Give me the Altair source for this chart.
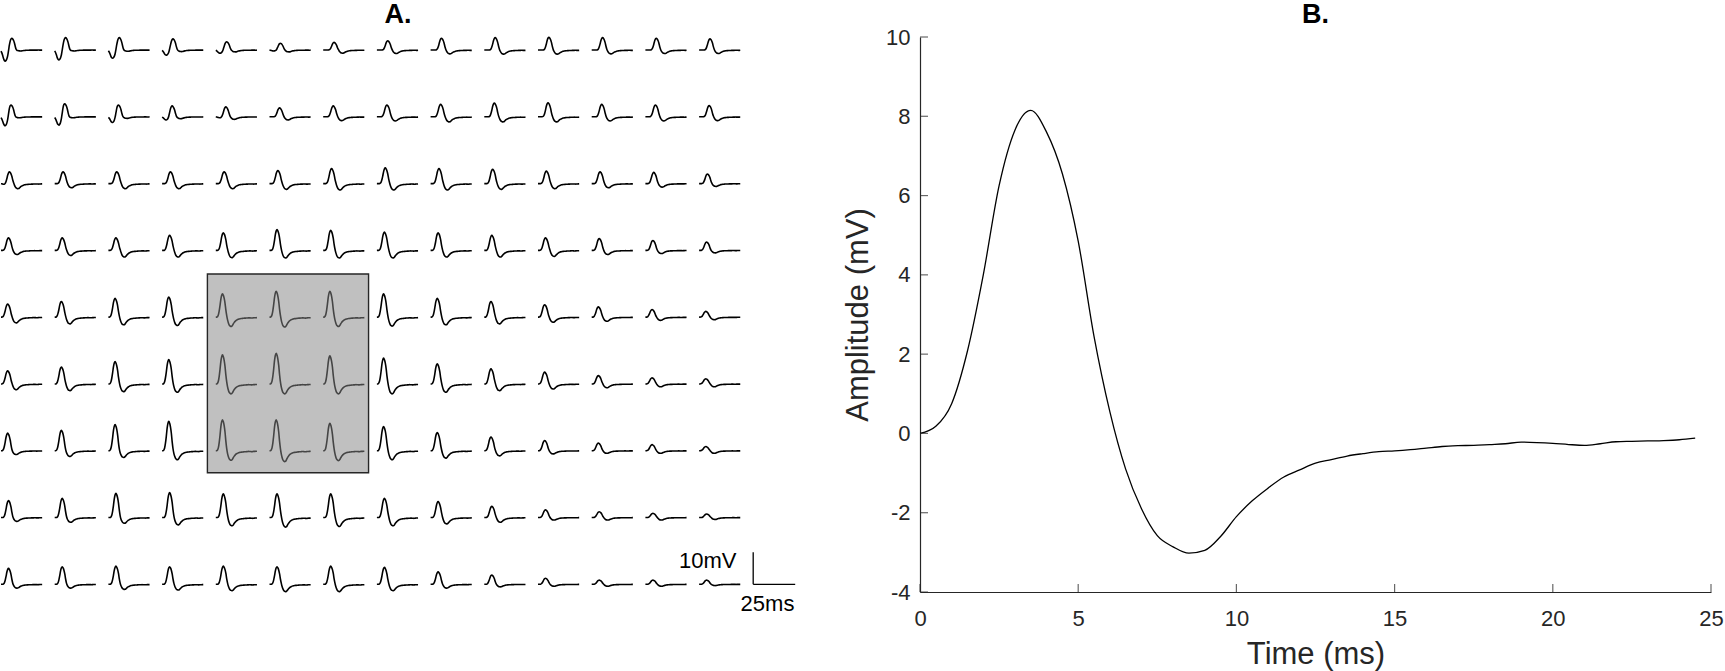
import altair as alt
import pandas as pd

# ---------------- data ----------------
TIME_STEP_MS = 0.5
# Panel B trace (mV), sampled every 0.5 ms from 0 to 24.5 ms
TRACE_B_MV = [0.00, 0.18, 0.75, 2.08, 4.00, 6.25, 7.65, 8.15, 7.60, 6.55,
              4.85, 2.45, 0.55, -0.90, -1.90, -2.58, -2.86, -3.02, -2.95, -2.60,
              -2.10, -1.70, -1.38, -1.10, -0.92, -0.75, -0.66, -0.57, -0.51, -0.46,
              -0.44, -0.41, -0.37, -0.33, -0.31, -0.30, -0.28, -0.26, -0.22, -0.23,
              -0.25, -0.28, -0.30, -0.26, -0.21, -0.20, -0.19, -0.18, -0.16, -0.12]
B_XTICKS = [0, 5, 10, 15, 20, 25]
B_YTICKS = [-4, -2, 0, 2, 4, 6, 8, 10]

# Panel A: 9 x 14 electrode grid, per electrode peak / trough / initial dip (mV)
PEAK_MV = [
    [3.7, 3.9, 3.9, 3.5, 2.6, 2.1, 2.4, 2.9, 3.7, 3.9, 4.0, 3.9, 3.7, 3.5],
    [3.7, 4.1, 3.7, 3.4, 3.1, 2.8, 3.4, 3.7, 3.9, 4.3, 4.4, 3.9, 3.7, 3.5],
    [3.7, 3.7, 3.7, 3.7, 3.7, 4.1, 4.7, 4.9, 4.7, 4.5, 3.9, 3.7, 3.5, 3.0],
    [3.9, 3.9, 3.9, 4.7, 5.5, 6.5, 6.3, 5.7, 5.5, 4.7, 3.9, 3.7, 3.1, 2.6],
    [4.1, 4.9, 5.9, 6.3, 7.3, 8.1, 8.1, 7.3, 5.9, 4.9, 3.9, 3.2, 2.4, 1.8],
    [4.1, 5.3, 7.0, 7.6, 9.1, 9.6, 8.8, 8.1, 6.3, 4.7, 3.7, 2.6, 1.9, 1.6],
    [5.5, 6.4, 8.2, 9.2, 9.7, 9.7, 8.6, 7.6, 5.7, 4.3, 3.2, 2.4, 1.9, 1.3],
    [5.3, 6.0, 7.6, 7.8, 7.4, 7.4, 7.4, 6.0, 5.0, 3.5, 2.4, 1.8, 1.3, 1.1],
    [5.0, 5.5, 5.7, 5.5, 5.7, 5.5, 5.7, 5.3, 3.9, 2.9, 1.9, 1.3, 1.3, 1.3],
]
TROUGH_MV = [
    [0.3, 0.3, 0.4, 0.5, 0.6, 0.6, 1.0, 1.1, 1.2, 1.3, 1.3, 1.2, 1.1, 1.1],
    [0.3, 0.3, 0.5, 0.6, 0.8, 1.0, 1.2, 1.3, 1.6, 1.6, 1.6, 1.3, 1.3, 1.2],
    [1.6, 1.3, 1.6, 1.6, 1.6, 1.8, 2.0, 2.0, 2.0, 1.8, 1.6, 1.3, 1.1, 0.9],
    [1.3, 1.6, 2.1, 2.1, 2.3, 2.4, 2.4, 2.4, 2.1, 2.1, 1.9, 1.3, 1.0, 0.8],
    [1.8, 2.1, 2.4, 2.6, 2.9, 3.1, 2.9, 2.8, 2.4, 2.1, 1.6, 1.3, 1.0, 0.8],
    [1.8, 2.1, 2.4, 2.6, 3.1, 3.1, 3.1, 3.1, 2.6, 2.1, 1.6, 1.2, 0.9, 0.9],
    [1.2, 1.8, 2.1, 2.8, 3.0, 3.4, 3.1, 2.8, 2.3, 1.6, 1.0, 0.8, 0.8, 0.8],
    [1.2, 1.5, 1.8, 2.3, 2.6, 3.0, 2.8, 2.6, 2.0, 1.5, 0.8, 0.8, 0.8, 0.6],
    [1.2, 1.2, 1.6, 1.8, 2.0, 2.3, 2.3, 2.0, 1.2, 0.8, 0.6, 0.6, 0.6, 0.4],
]
PREDIP_MV = [
    [3.5, 3.1, 2.6, 1.6, 1.0, 0.3, 0, 0, 0, 0, 0, 0, 0, 0],
    [2.8, 2.6, 1.8, 1.0, 0.3, 0, 0, 0, 0, 0, 0, 0, 0, 0],
    [0.3, 0, 0, 0, 0, 0, 0, 0, 0, 0, 0, 0, 0, 0],
    [0] * 14, [0] * 14, [0] * 14, [0] * 14, [0] * 14, [0] * 14,
]
ONSET_MS = [3.0, 2.5, 1.5, 1.0, 0.5, 0.5, 0.5, 1.0, 1.0]
BOX_ROWS = [4, 6]
BOX_COLS = [4, 6]
SCALEBAR_MV = 10
SCALEBAR_MS = 25
SCALEBAR_LABELS = ["10mV", "25ms"]
PANEL_TITLES = ["A.", "B."]
AXIS_TITLES = ["Time (ms)", "Amplitude (mV)"]

# ---------------- layout / style ----------------
COL_PX = 53.7
PX_PER_MS = 1.68
COL_PITCH_MS = COL_PX / PX_PER_MS
ROW_PITCH_MV = 20.9
FONT = "Liberation Sans"
AX = "#262626"

n = len(TRACE_B_MV)
b_peak = max(TRACE_B_MV)
b_trough = -min(TRACE_B_MV)

recs = []
for r in range(len(PEAK_MV)):
    k = int(round(ONSET_MS[r] / TIME_STEP_MS))
    for c in range(len(PEAK_MV[r])):
        inbox = BOX_ROWS[0] <= r <= BOX_ROWS[1] and BOX_COLS[0] <= c <= BOX_COLS[1]
        for i in range(n):
            t = i * TIME_STEP_MS
            j = i - k
            base = TRACE_B_MV[j] if j >= 0 else 0.0
            pos = max(base, 0.0) / b_peak
            neg = min(base, 0.0) / b_trough
            jd = i + 2
            dip = max(TRACE_B_MV[jd], 0.0) / b_peak if jd < n else 0.0
            v = PEAK_MV[r][c] * pos + TROUGH_MV[r][c] * neg - PREDIP_MV[r][c] * dip
            recs.append({"id": f"{r}-{c}", "t": t,
                         "x": c * COL_PITCH_MS + t,
                         "y": v - r * ROW_PITCH_MV,
                         "grp": "in" if inbox else "out"})
df_a = pd.DataFrame(recs)

last_col = len(PEAK_MV[0]) - 1
last_row = len(PEAK_MV) - 1
xa = alt.Scale(domain=[0, last_col * COL_PITCH_MS], range=[1, 1 + last_col * COL_PX], nice=False, zero=False)
ya = alt.Scale(domain=[-last_row * ROW_PITCH_MV, 0], range=[584.3, 50], nice=False, zero=False)

box_df = pd.DataFrame([{
    "x0": BOX_COLS[0] * COL_PITCH_MS - 5.0,
    "x1": BOX_COLS[1] * COL_PITCH_MS + 25 + 2.0,
    "y0": -BOX_ROWS[0] * ROW_PITCH_MV + 13.5,
    "y1": -BOX_ROWS[1] * ROW_PITCH_MV - 6.9,
}])
box = alt.Chart(box_df).mark_rect(fill="#c0c0c0", stroke=AX, strokeWidth=1.4).encode(
    x=alt.X("x0:Q", scale=xa, axis=None), x2="x1:Q",
    y=alt.Y("y0:Q", scale=ya, axis=None), y2="y1:Q")

waves = alt.Chart(df_a).mark_line(strokeWidth=1.6, interpolate="monotone").encode(
    x=alt.X("x:Q", scale=xa, axis=None),
    y=alt.Y("y:Q", scale=ya, axis=None),
    detail="id:N",
    order="t:Q",
    color=alt.Color("grp:N", scale=alt.Scale(domain=["out", "in"], range=["#000000", "#454545"]), legend=None),
)

sb_x = last_col * COL_PITCH_MS + 32.2
sb_y = -last_row * ROW_PITCH_MV
sb_df = pd.DataFrame([{"x": sb_x, "xe": sb_x + SCALEBAR_MS, "y": sb_y, "ye": sb_y + SCALEBAR_MV,
                       "lx_v": sb_x - 10, "ly_v": sb_y + 5, "lx_h": sb_x + 8.5,
                       "ly_h": sb_y - 8.2, "tv": SCALEBAR_LABELS[0], "th": SCALEBAR_LABELS[1]}])
sb_v = alt.Chart(sb_df).mark_rule(color="#000000", strokeWidth=1.3).encode(
    x=alt.X("x:Q", scale=xa, axis=None), y=alt.Y("y:Q", scale=ya, axis=None), y2="ye:Q")
sb_h = alt.Chart(sb_df).mark_rule(color="#000000", strokeWidth=1.3).encode(
    x=alt.X("x:Q", scale=xa, axis=None), x2="xe:Q", y=alt.Y("y:Q", scale=ya, axis=None))
sb_tv = alt.Chart(sb_df).mark_text(font=FONT, fontSize=22, align="right", baseline="alphabetic", color="#000000").encode(
    x=alt.X("lx_v:Q", scale=xa, axis=None), y=alt.Y("ly_v:Q", scale=ya, axis=None), text="tv:N")
sb_th = alt.Chart(sb_df).mark_text(font=FONT, fontSize=22, align="center", baseline="alphabetic", color="#000000").encode(
    x=alt.X("lx_h:Q", scale=xa, axis=None), y=alt.Y("ly_h:Q", scale=ya, axis=None), text="th:N")

title_a = alt.Chart(pd.DataFrame({"x": [(sb_x + SCALEBAR_MS) / 2], "lab": [PANEL_TITLES[0]]})).mark_text(
    font=FONT, fontSize=27, fontWeight="bold", align="center", baseline="alphabetic", color="#000000").encode(
    x=alt.X("x:Q", scale=xa, axis=None), y=alt.value(23), text="lab:N")

panel_a = alt.layer(box, waves, sb_v, sb_h, sb_tv, sb_th, title_a)

# ---------------- panel B ----------------
df_b = pd.DataFrame({"t": [i * TIME_STEP_MS for i in range(n)], "v": TRACE_B_MV})
xb = alt.Scale(domain=[B_XTICKS[0], B_XTICKS[-1]], range=[920, 1711], nice=False, zero=False)
yb = alt.Scale(domain=[B_YTICKS[0], B_YTICKS[-1]], range=[592, 37], nice=False, zero=False)

x_axis_b = alt.Axis(
    orient="bottom", offset=-79, values=B_XTICKS, ticks=False, grid=False,
    domainColor=AX, domainWidth=1.2, labelFont=FONT, labelFontSize=22, labelColor=AX,
    labelPadding=16, labelFlush=False, labelOverlap=False, labelExpr="'' + datum.value",
    title=AXIS_TITLES[0], titleFont=FONT, titleFontSize=31, titleFontWeight="normal",
    titleColor=AX, titlePadding=10)
y_axis_b = alt.Axis(
    orient="left", offset=-920, values=B_YTICKS, ticks=False, grid=False,
    domainColor=AX, domainWidth=1.2, labelFont=FONT, labelFontSize=22, labelColor=AX,
    labelPadding=10, labelFlush=False, labelOverlap=False, labelExpr="'' + datum.value",
    title=AXIS_TITLES[1], titleFont=FONT, titleFontSize=31, titleFontWeight="normal",
    titleColor=AX, titlePadding=11)

line_b = alt.Chart(df_b).mark_line(color="#000000", strokeWidth=1.3, interpolate="monotone").encode(
    x=alt.X("t:Q", scale=xb, axis=x_axis_b),
    y=alt.Y("v:Q", scale=yb, axis=y_axis_b),
)
tx = alt.Chart(pd.DataFrame({"t": B_XTICKS, "v": [B_YTICKS[0]] * len(B_XTICKS)})).mark_tick(
    orient="vertical", size=8, thickness=1.2, color=AX, yOffset=-4).encode(
    x=alt.X("t:Q", scale=xb, axis=x_axis_b), y=alt.Y("v:Q", scale=yb, axis=y_axis_b))
ty = alt.Chart(pd.DataFrame({"t": [B_XTICKS[0]] * len(B_YTICKS), "v": B_YTICKS})).mark_tick(
    orient="horizontal", size=8, thickness=1.2, color=AX, xOffset=4).encode(
    x=alt.X("t:Q", scale=xb, axis=x_axis_b), y=alt.Y("v:Q", scale=yb, axis=y_axis_b))
title_b = alt.Chart(pd.DataFrame({"t": [(B_XTICKS[0] + B_XTICKS[-1]) / 2], "lab": [PANEL_TITLES[1]]})).mark_text(
    font=FONT, fontSize=27, fontWeight="bold", align="center", baseline="alphabetic", color="#000000").encode(
    x=alt.X("t:Q", scale=xb, axis=x_axis_b), y=alt.value(23), text="lab:N")

panel_b = alt.layer(line_b, tx, ty, title_b)

chart = alt.layer(panel_a, panel_b).resolve_scale(x="independent", y="independent").properties(
    width=1725, height=671, padding=0, autosize=alt.AutoSizeParams(type="none"),
    background="#ffffff").configure_view(stroke=None)

chart.save("out.html", embed_options={"renderer": "svg", "actions": False})
